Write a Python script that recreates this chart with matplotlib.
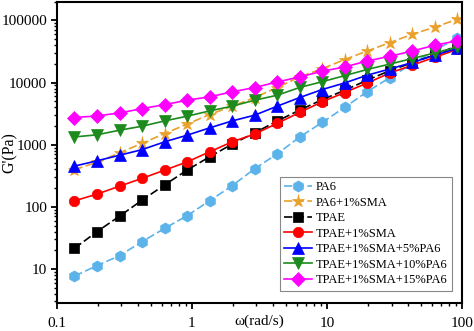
import matplotlib
matplotlib.use("Agg")
import matplotlib.pyplot as plt
from matplotlib.ticker import FixedLocator, FixedFormatter, LogLocator, NullFormatter

plt.rcParams['font.family'] = ['Liberation Serif', 'DejaVu Serif']
plt.rcParams['mathtext.fontset'] = 'stix'

# Angular frequency (rad/s)
omega = [0.135, 0.198, 0.291, 0.427, 0.627, 0.92, 1.35, 1.98, 2.91,
         4.27, 6.27, 9.2, 13.5, 19.8, 29.1, 42.7, 62.7, 92.0]

# Storage modulus G' (Pa) for each sample
g_pa6 = [7.7, 11.3, 16.4, 27.5, 45, 72, 125, 218, 410,
         708, 1330, 2280, 3990, 7100, 12000, 20000, 33000, 52000]
g_pa6_sma = [398, 518, 740, 1050, 1510, 2140, 3050, 4150, 5730,
             8300, 12300, 16700, 23400, 32100, 43800, 59600, 77900, 104000]
g_tpae = [21.5, 39.8, 70.8, 128, 225, 390, 637, 1020, 1550,
          2400, 3600, 5300, 7500, 10900, 15500, 20800, 28000, 39000]
g_tpae_sma = [125, 160, 215, 287, 389, 528, 766, 1110, 1480,
              2200, 3300, 4900, 6900, 9800, 14200, 19000, 25500, 34000]
g_tpae_sma_5 = [452, 550, 676, 832, 1110, 1420, 1860, 2410, 2980,
                4160, 5730, 7710, 9840, 13100, 16500, 21000, 27500, 35500]
g_tpae_sma_10 = [1333, 1440, 1710, 1980, 2410, 2870, 3490, 4160, 5190,
                 6240, 8320, 10300, 12900, 16200, 19800, 24300, 29900, 37200]
g_tpae_sma_15 = [2735, 2900, 3240, 3800, 4410, 5190, 5890, 7070, 8300,
                 10200, 12300, 15200, 17800, 22200, 26400, 32100, 39800, 47000]

labels = ['PA6', 'PA6+1%SMA', 'TPAE', 'TPAE+1%SMA', 'TPAE+1%SMA+5%PA6',
          'TPAE+1%SMA+10%PA6', 'TPAE+1%SMA+15%PA6']
series = [g_pa6, g_pa6_sma, g_tpae, g_tpae_sma, g_tpae_sma_5,
          g_tpae_sma_10, g_tpae_sma_15]
colors = ['#5BB3EA', '#E9A12C', '#000000', '#FF0000', '#0000FF',
          '#1C8A1C', '#FF00FF']
markers = ['h', '*', 's', 'o', '^', 'v', 'D']
msizes = [8, 9.5, 6.5, 7.5, 8, 8, 6.8]
styles = [(0, (5, 2)), (0, (5, 2)), (0, (5, 2)), '-', '-', '-', '-']

x_ticks = [0.1, 1, 10, 100]
x_ticklabels = ['0.1', '1', '10', '100']
y_ticks = [10, 100, 1000, 10000, 100000]
y_ticklabels = ['10', '100', '1000', '10000', '100000']

fig = plt.figure(figsize=(4.74, 3.31), dpi=100)
ax = fig.add_axes([0.120, 0.085, 0.855, 0.910])

for y, lab, c, m, ms, ls in zip(series, labels, colors, markers, msizes, styles):
    ax.plot(omega, y, color=c, marker=m, markersize=ms, linestyle=ls,
            linewidth=1.2, label=lab, markeredgewidth=0.5)

ax.set_xscale('log')
ax.set_yscale('log')
ax.set_xlim(0.1, 100)
ax.set_ylim(2.85, 2.0e5)

ax.xaxis.set_major_locator(FixedLocator(x_ticks))
ax.xaxis.set_major_formatter(FixedFormatter(x_ticklabels))
ax.xaxis.set_minor_locator(LogLocator(base=10, subs=range(2, 10)))
ax.xaxis.set_minor_formatter(NullFormatter())
ax.yaxis.set_major_locator(FixedLocator(y_ticks))
ax.yaxis.set_major_formatter(FixedFormatter(y_ticklabels))
ax.yaxis.set_minor_locator(LogLocator(base=10, subs=range(2, 10)))
ax.yaxis.set_minor_formatter(NullFormatter())

ax.tick_params(which='major', direction='out', length=4, width=1.3,
               labelsize=11, pad=3)
ax.tick_params(axis='x', which='major', pad=6)
ax.tick_params(which='minor', direction='out', length=2.5, width=1.0)
for sp in ax.spines.values():
    sp.set_linewidth(1.5)

ax.set_xlabel('ω(rad/s)', fontsize=11)
ax.xaxis.set_label_coords(0.50, -0.04)
ax.set_ylabel("G'(Pa)", fontsize=11.5)
ax.yaxis.set_label_coords(-0.097, 0.5)

leg = ax.legend(loc='lower right', fontsize=9, frameon=True, fancybox=False,
                edgecolor='#888888', framealpha=1, handlelength=2.2,
                handletextpad=0.3, labelspacing=0.28, borderpad=0.35,
                bbox_to_anchor=(0.99, 0.02))
leg.get_frame().set_linewidth(0.8)

fig.savefig('out.png', dpi=100)
